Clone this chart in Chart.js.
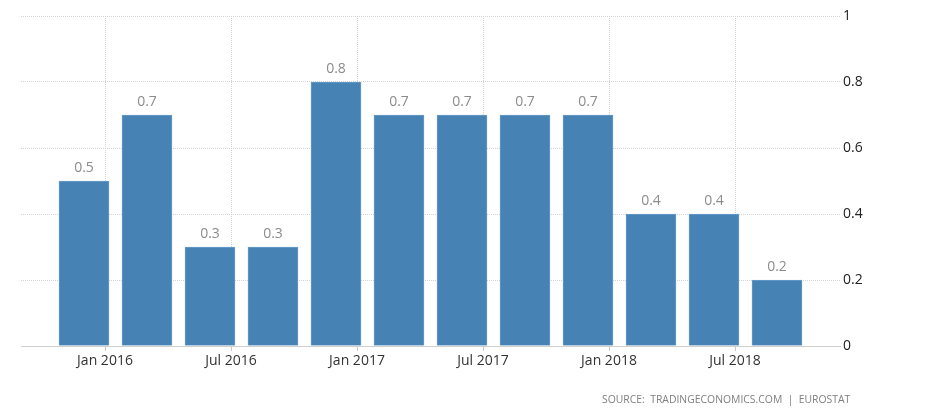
<!DOCTYPE html>
<html>
<head>
<meta charset="utf-8">
<script src="https://cdn.jsdelivr.net/npm/chart.js@4/dist/chart.umd.min.js"></script>
<style>
  html, body { margin: 0; padding: 0; background: #fff; }
  #wrap { position: relative; width: 926px; height: 415px; }
  #source { position: absolute; left: 602px; top: 392px; font: 10.4px "Open Sans", sans-serif; color: #808080; letter-spacing: 0; white-space: pre; }
</style>
</head>
<body>
<div id="wrap">
  <canvas id="c" width="926" height="415"></canvas>
  <div id="source">SOURCE:  TRADINGECONOMICS.COM  |  EUROSTAT</div>
</div>
<script>
// Quarterly periods (bars), in order
const categories = ['Q4 2015','Q1 2016','Q2 2016','Q3 2016','Q4 2016','Q1 2017','Q2 2017','Q3 2017','Q4 2017','Q1 2018','Q2 2018','Q3 2018'];
const values = [0.5, 0.7, 0.3, 0.3, 0.8, 0.7, 0.7, 0.7, 0.7, 0.4, 0.4, 0.2];
// x-axis tick labels and the bar (category) index each one follows
const tickLabels = ['Jan 2016','Jul 2016','Jan 2017','Jul 2017','Jan 2018','Jul 2018'];
const tickAfterCategory = [0, 2, 4, 6, 8, 10];
const yTicks = [0, 0.2, 0.4, 0.6, 0.8, 1];

const points = values.map((v, i) => ({ x: i + 1, y: v }));
const tickValues = tickAfterCategory.map(i => i + 1 + 1/3);

const FONT = '"Open Sans", sans-serif';

const valueLabels = {
  id: 'valueLabels',
  afterDatasetsDraw(chart) {
    const ctx = chart.ctx;
    const meta = chart.getDatasetMeta(0);
    ctx.save();
    ctx.font = '14px ' + FONT;
    ctx.fillStyle = '#8c8c8c';
    ctx.textAlign = 'center';
    ctx.textBaseline = 'alphabetic';
    meta.data.forEach((bar, i) => {
      ctx.fillText(String(values[i]), bar.x, bar.y - 9);
    });
    ctx.restore();
  }
};

new Chart(document.getElementById('c'), {
  type: 'bar',
  data: {
    datasets: [{
      data: points,
      backgroundColor: '#4682b4',
      borderColor: '#6a9ccb',
      borderWidth: 1,
      barThickness: 50
    }]
  },
  options: {
    responsive: false,
    animation: false,
    layout: { padding: { left: 21, top: 16, right: 0, bottom: 0 } },
    plugins: { legend: { display: false }, tooltip: { enabled: false } },
    scales: {
      x: {
        type: 'linear',
        min: 0,
        max: 13,
        offset: false,
        afterBuildTicks(scale) { scale.ticks = tickValues.map(v => ({ value: v })); },
        afterFit(scale) { scale.height = 69; },
        ticks: {
          autoSkip: false,
          maxRotation: 0,
          padding: 2,
          color: '#333333',
          font: { family: FONT, size: 14 },
          callback(value, index) { return tickLabels[index]; }
        },
        grid: {
          offset: false,
          color: '#d4d4d4',
          tickColor: '#c8c8c8',
          tickLength: 5,
          lineWidth: 1
        },
        border: { display: true, color: '#cfcfcf', dash: [1, 1] }
      },
      y: {
        position: 'right',
        min: 0,
        max: 1,
        afterBuildTicks(scale) { scale.ticks = yTicks.map(v => ({ value: v })); },
        afterFit(scale) { scale.width = 86; },
        ticks: {
          padding: 3,
          color: '#222222',
          font: { family: FONT, size: 14 },
          callback(value) { return String(value); }
        },
        grid: {
          color: '#d4d4d4',
          drawTicks: false,
          lineWidth: 1
        },
        border: { display: false, dash: [1, 1] }
      }
    }
  },
  plugins: [valueLabels]
});
</script>
</body>
</html>
